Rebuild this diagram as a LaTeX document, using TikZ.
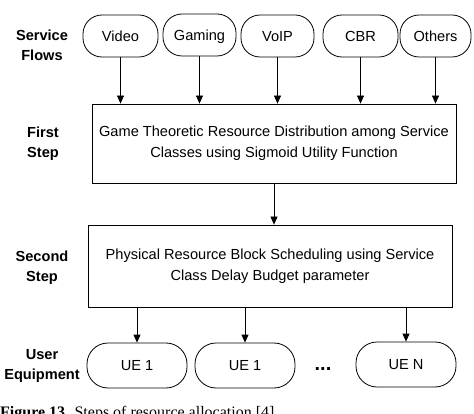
\documentclass[tikz,border=0pt]{standalone}
\usepackage{fontspec}
\setmainfont{Liberation Sans}
\newfontfamily\capfont{Liberation Serif}
\usetikzlibrary{arrows.meta}
\begin{document}
\begin{tikzpicture}[x=1pt,y=-1pt,
  every node/.style={font=\fontsize{14.6}{21}\selectfont},
  pill/.style={draw,line width=0.8pt,rounded corners=19pt,minimum height=42pt,inner sep=0pt,text height=13pt,text depth=2.5pt},
  stepbox/.style={draw,line width=0.8pt,minimum width=364pt,align=center,inner sep=0pt},
  lbl/.style={font=\fontsize{14.6}{20}\selectfont\bfseries,align=center},
  arr/.style={-{Triangle[length=8pt,width=7pt]},line width=0.8pt}]
\useasboundingbox (0,0) rectangle (474,414);
\fill[white] (0,0) rectangle (474,414);
% left labels
\node[lbl] (l1) at (42,45) {Service\\Flows};
\node[lbl] (l2) at (43,144) {First\\Step};
\node[lbl] (l3) at (42,268) {Second\\Step};
\node[lbl] (l4) at (42,366) {User\\Equipment};
% service flows
\node[pill,minimum width=75pt] (v) at (120.5,36) {Video};
\node[pill,minimum width=73pt] (g) at (199.5,35) {Gaming};
\node[pill,minimum width=73pt] (p) at (277.5,36) {VoIP};
\node[pill,minimum width=75pt] (c) at (360.5,36) {CBR};
\node[pill,minimum width=71pt] (o) at (435.5,36) {Others};
% steps
\node[stepbox,minimum height=79pt] (b1) at (274,143.5)
  {Game Theoretic Resource Distribution among Service\\Classes using Sigmoid Utility Function};
\node[stepbox,minimum height=82pt] (b2) at (270,266)
  {Physical Resource Block Scheduling using Service\\Class Delay Budget parameter};
% user equipment
\node[pill,minimum width=100pt,minimum height=45pt,rounded corners=21pt] (u1) at (137,365.5) {UE 1};
\node[pill,minimum width=100pt,minimum height=45pt,rounded corners=21pt] (u2) at (245,365.5) {UE 1};
\node[pill,minimum width=100pt,minimum height=45pt,rounded corners=21pt] (un) at (406,364.5) {UE N};
\node[font=\fontsize{20}{20}\selectfont\bfseries] (dots) at (323,369) {...};
% arrows
\foreach \s in {v,g,p,c,o}
  \draw[arr] (\s.south) -- (\s.south |- b1.north);
\draw[arr] (b1.south) -- (b1.south |- b2.north);
\foreach \t in {u1,u2,un}
  \draw[arr] (b2.south -| \t.north) -- (\t.north);
% caption (cut off at bottom, as in the reference)
\node[anchor=north west,inner sep=0pt,font=\capfont\fontsize{16}{18}\selectfont] (cap) at (0,406)
  {\textbf{Figure 13.} Steps of resource allocation [4]};
\end{tikzpicture}
\end{document}
